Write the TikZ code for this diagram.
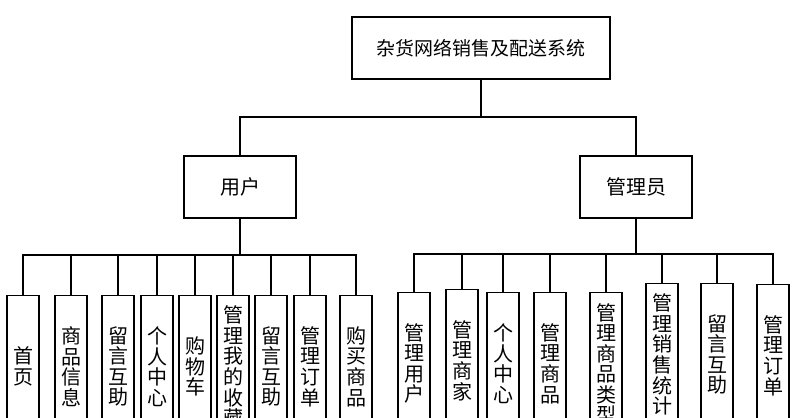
\documentclass[tikz,border=0pt]{standalone}
\usepackage{fontspec}
\setmainfont{Noto Sans CJK SC}

\begin{document}
\begin{tikzpicture}[x=0.75pt, y=-0.75pt,
		line width=0.9pt,
		topbox/.style={draw, minimum width=258*0.75pt, minimum height=62*0.75pt,
			font=\fontsize{14.2pt}{15pt}\selectfont},
		rolebox/.style={draw, minimum width=112*0.75pt, minimum height=62*0.75pt,
			font=\fontsize{15pt}{15pt}\selectfont},
		leafbox/.style={draw, anchor=north, inner sep=0pt, align=center,
			minimum width=32*0.75pt, minimum height=142*0.75pt,
			font=\fontsize{15pt}{15.4pt}\selectfont}]
		
		\useasboundingbox (0,0) rectangle (801,418);
		
		% Root
		\node [topbox] (sys) at (481,48) {杂货网络销售及配送系统};
		
		% Roles
		\node [rolebox] (user) at (240,187) {用户};
		
		\node [rolebox] (admin) at (636,187) {管理员};
		
		\coordinate (rbus) at (481,117);
		
		\draw (sys.south) -- (rbus);
		\draw (rbus) -| (user.north);
		\draw (rbus) -| (admin.north);
		
		% User functions
		\node [leafbox] (u1) at (23,295) {首\\页};
		\node [leafbox] (u2) at (71,295) {商\\品\\信\\息};
		\node [leafbox] (u3) at (118,295) {留\\言\\互\\助};
		\node [leafbox] (u4) at (157,295) {个\\人\\中\\心};
		\node [leafbox] (u5) at (195,295) {购\\物\\车};
		\node [leafbox] (u6) at (233,295) {管\\理\\我\\的\\收\\藏};
		\node [leafbox] (u7) at (271,295) {留\\言\\互\\助};
		\node [leafbox] (u8) at (310,295) {管\\理\\订\\单};
		\node [leafbox] (u9) at (356,295) {购\\买\\商\\品};
		
		\coordinate (ubus) at (240,255);
		
		\draw (user.south) -- (ubus);
		\foreach \i in {1,...,9}
			\draw (ubus) -| (u\i.north);
		
		% Admin functions
		\node [leafbox] (a1) at (414,292) {管\\理\\用\\户};
		\node [leafbox] (a2) at (462,289) {管\\理\\商\\家};
		\node [leafbox] (a3) at (503,292) {个\\人\\中\\心};
		\node [leafbox] (a4) at (550,292) {管\\理\\商\\品};
		\node [leafbox] (a5) at (606,292) {管\\理\\商\\品\\类\\型};
		\node [leafbox] (a6) at (662,283) {管\\理\\销\\售\\统\\计};
		\node [leafbox] (a7) at (717,283) {留\\言\\互\\助};
		\node [leafbox] (a8) at (773,284) {管\\理\\订\\单};
		
		\coordinate (abus) at (636,254);
		
		\draw (admin.south) -- (abus);
		\foreach \i in {1,...,8}
			\draw (abus) -| (a\i.north);
		
	\end{tikzpicture}
\end{document}
